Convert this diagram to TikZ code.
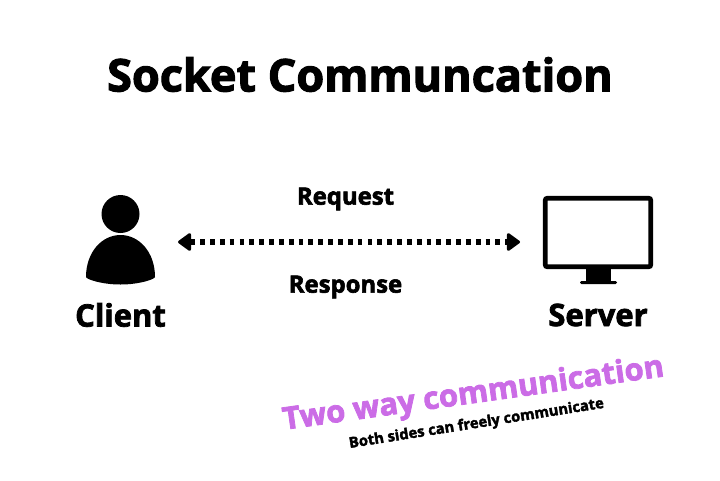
\documentclass[tikz,border=0pt]{standalone}
\usepackage{fontspec}
\setmainfont{Open Sans}[BoldFeatures={FakeBold=2.5}]
\usepackage{tikz}
\usetikzlibrary{arrows.meta}
\definecolor{twoway}{HTML}{CB6CE6}

\begin{document}
\begin{tikzpicture}[x=0.025cm,y=-0.025cm,
	label/.style={inner sep=0pt,font=\bfseries\fontsize{#1}{#1}\selectfont},
	icon/.style={draw=none,fill=black,inner sep=0pt,outer sep=0pt},
	link/.style={line width=3.6pt,dash pattern=on 3.4pt off 3.6pt,
		{Triangle[round,length=10pt,width=14pt,line width=2pt]}-{Triangle[round,length=10pt,width=14pt,line width=2pt]}}]
	\useasboundingbox (0,0) rectangle (720,480);
	\node [label=32] (title) at (360,74.5) {Socket Communcation};
	% client
	\node [icon,circle,minimum size=38*0.025cm] (head) at (120.5,214) {};
	\fill (86,277) .. controls (86,252) and (102,235) .. (120.5,235) .. controls (139,235) and (155,252) .. (155,277)
		.. controls (155,279) and (140,284.5) .. (120.5,284.5) .. controls (101,284.5) and (86,279) .. (86,277) -- cycle;
	\node [label=22] (client) at (120.5,315) {Client};
	% server
	\node [draw,line width=3.4pt,rounded corners=1.5pt,inner sep=0pt,minimum width=105.5*0.025cm,minimum height=68.5*0.025cm] (screen) at (598,232.5) {};
	\fill (586,269) rectangle (611,281);
	\fill [rounded corners=1pt] (580,281) rectangle (617,284);
	\node [label=22] (server) at (598,315) {Server};
	% messages
	\node [label=17] (request) at (345.5,199) {Request};
	\node [label=17] (response) at (345.5,287) {Response};
	\coordinate (left) at (178,242);
	\coordinate (right) at (520,242);
	\draw [link] (left) -- (right);
	% note
	\node [label=22,text=twoway,rotate=8] (twoway) at (473.5,395) {Two way communication};
	\node [label=10.5,rotate=9] (both) at (476.5,424) {Both sides can freely communicate};
\end{tikzpicture}
\end{document}
